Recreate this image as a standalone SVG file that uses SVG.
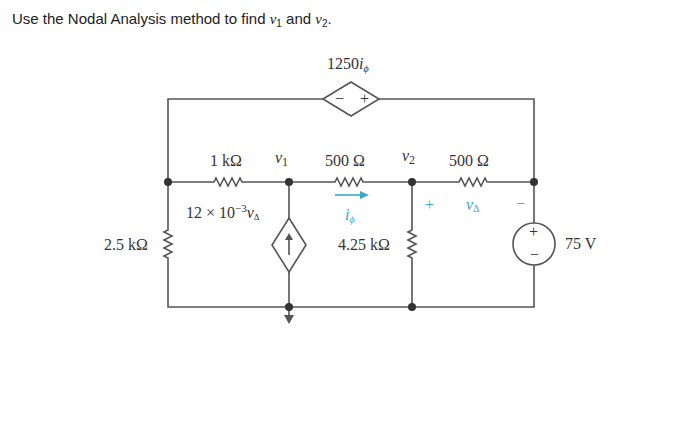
<svg xmlns="http://www.w3.org/2000/svg" width="700" height="435" viewBox="0 0 700 435">
<style>
.w{fill:none;stroke:#555;stroke-width:1.6}
.t{font-family:"Liberation Serif",serif;font-size:16px;fill:#333}
.i{font-style:italic}
.c{fill:#3aa8c8}
</style>
<rect width="700" height="435" fill="#fff"/>
<text x="12" y="24" font-family="Liberation Sans,sans-serif" font-size="15" fill="#222">Use the Nodal Analysis method to find <tspan font-family="Liberation Serif" font-style="italic">v</tspan><tspan font-size="10" dy="3">1</tspan><tspan dy="-3"> and </tspan><tspan font-family="Liberation Serif" font-style="italic">v</tspan><tspan font-size="10" dy="3">2</tspan><tspan dy="-3">.</tspan></text>
<g id="connectors">
<path class="w" d="M168,182 V99 H323 M379,99 H534 V182"/>
<path class="w" d="M168,182 H214 l2,-4 4,8 4,-8 4,8 4,-8 4,8 4,-8 2,4 H335 l2,-4 4,8 4,-8 4,8 4,-8 4,8 4,-8 2,4 H459 l2,-4 4,8 4,-8 4,8 4,-8 4,8 4,-8 2,4 H534"/>
<path class="w" d="M168,182 V230 l-4,2 8,4 -8,4 8,4 -8,4 8,4 -8,4 4,2 V307 H534 V265 M534,223 V182"/>
<path class="w" d="M412,182 V230 l-4,2 8,4 -8,4 8,4 -8,4 8,4 -8,4 4,2 V307"/>
<path class="w" d="M289,182 V218 M289,272 V315"/>
<path d="M284,315 L294,315 L289,324 Z" fill="#555"/>
<circle cx="168" cy="182" r="4" fill="#333"/><circle cx="289" cy="182" r="4" fill="#333"/>
<circle cx="412" cy="182" r="4" fill="#333"/><circle cx="534" cy="182" r="4" fill="#333"/>
<circle cx="289" cy="307" r="4" fill="#333"/><circle cx="412" cy="307" r="4" fill="#333"/>
<path d="M335,195 H362" stroke="#3aa8c8" stroke-width="1.6"/><path d="M360,191 L369,195 L360,199 Z" class="c"/>
</g>
<g id="dep-voltage"><path class="w" d="M323,99 L351,82 L379,99 L351,116 Z"/>
<text class="t" x="335" y="104" font-size="14">−</text><text class="t" x="360" y="104" font-size="14">+</text>
<text class="t" x="327" y="69">1250<tspan class="i">i</tspan><tspan class="i" font-size="10" dy="3">ϕ</tspan></text></g>
<g id="dep-current"><path class="w" d="M289,218 L306,245 L289,272 L272,245 Z"/>
<path d="M289,255 V238" stroke="#555" stroke-width="1.6"/><path d="M285,240 L289,233 L293,240 Z" fill="#555"/>
<text class="t" x="186" y="218">12 × 10<tspan font-size="11" dy="-6">−3</tspan><tspan class="i" dy="6">v</tspan><tspan font-size="9" dy="2">Δ</tspan></text></g>
<g id="vsrc"><circle class="w" cx="534" cy="244" r="21"/>
<text class="t" x="529" y="237" font-size="14">+</text><text class="t" x="530" y="260" font-size="14">−</text>
<text class="t" x="565" y="249">75 V</text></g>
<g id="labels">
<text class="t" x="210" y="166">1 kΩ</text>
<text class="t i" x="275" y="163" font-size="19">v<tspan font-size="12" dy="3" font-style="normal">1</tspan></text>
<text class="t" x="325" y="166">500 Ω</text>
<text class="t i" x="402" y="161" font-size="19">v<tspan font-size="12" dy="3" font-style="normal">2</tspan></text>
<text class="t" x="449" y="166">500 Ω</text>
<text class="t" x="104" y="250">2.5 kΩ</text>
<text class="t" x="338" y="250">4.25 kΩ</text>
<text class="t c" x="425" y="210">+</text>
<text class="t c i" x="466" y="210">v<tspan font-size="10" dy="2" font-style="normal">Δ</tspan></text>
<text class="t c" x="516" y="209">−</text>
<text class="t c i" x="345" y="220">i<tspan font-size="10" dy="3">ϕ</tspan></text>
</g>
</svg>
